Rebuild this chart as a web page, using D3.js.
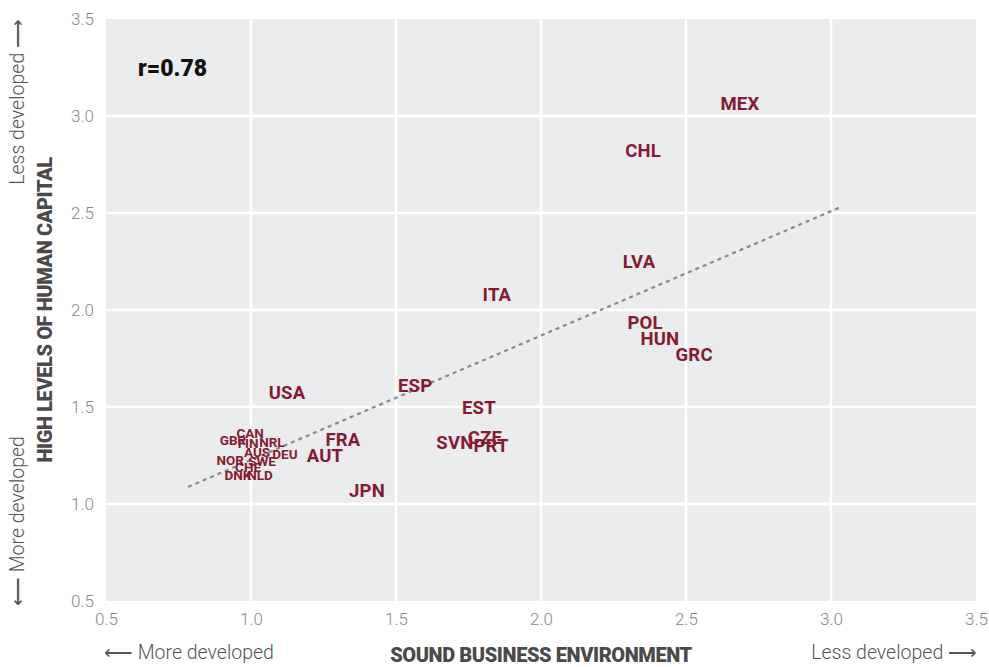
<!DOCTYPE html>
<html><head><meta charset="utf-8">
<script src="https://cdn.jsdelivr.net/npm/d3@7"></script>
<style>
html,body{margin:0;padding:0;background:#fff;}
svg{display:block;font-family:Roboto,"Liberation Sans",sans-serif;}
</style></head>
<body><svg id="c" width="989" height="667"></svg>
<script>
const countries = ["MEX","CHL","LVA","ITA","POL","HUN","GRC","ESP","USA","EST","FRA","AUT","JPN","SVN","CZE","PRT"];
const xValues   = [2.686,2.352,2.338,1.848,2.359,2.410,2.528,1.566,1.124,1.786,1.317,1.255,1.400,1.703,1.807,1.828];
const yValues   = [3.062,2.820,2.247,2.077,1.933,1.851,1.768,1.608,1.572,1.495,1.330,1.247,1.067,1.314,1.340,1.299];

const clusterCountries = ["CAN","GBR","FIN","NRL","AUS","DEU","NOR","SWE","CHE","DNK","NLD"];
const clusterX = [0.997,0.938,0.990,1.072,1.021,1.117,0.928,1.038,0.990,0.955,1.031];
const clusterY = [1.366,1.330,1.314,1.320,1.268,1.258,1.227,1.222,1.191,1.149,1.149];

const trendX = [0.783, 3.034];
const trendY = [1.088, 2.531];

const xTicks = [0.5,1.0,1.5,2.0,2.5,3.0,3.5];
const yTicks = [0.5,1.0,1.5,2.0,2.5,3.0,3.5];
const rLabel = "r=0.78";

const svg = d3.select("#c");
const x = d3.scaleLinear().domain([0.5,3.5]).range([106,976]);
const y = d3.scaleLinear().domain([0.5,3.5]).range([601,19]);

svg.append("rect").attr("x",x(0.5)).attr("y",y(3.5))
  .attr("width",x(3.5)-x(0.5)).attr("height",y(0.5)-y(3.5)).attr("fill","#ebeced");

// grid
const g = svg.append("g");
g.selectAll(".vg").data(xTicks.slice(1,-1)).join("line")
  .attr("x1",d=>x(d)).attr("x2",d=>x(d)).attr("y1",y(3.5)).attr("y2",y(0.5))
  .attr("stroke","#fff").attr("stroke-width",2.5);
g.selectAll(".hg").data(yTicks.slice(1,-1)).join("line")
  .attr("y1",d=>y(d)).attr("y2",d=>y(d)).attr("x1",x(0.5)).attr("x2",x(3.5))
  .attr("stroke","#fff").attr("stroke-width",2.5);

// axes
const xAxis = svg.append("g").attr("transform",`translate(0,${y(0.5)+8})`)
  .call(d3.axisBottom(x).tickValues(xTicks).tickFormat(d3.format(".1f")).tickSize(0).tickPadding(4));
xAxis.select(".domain").remove();
xAxis.selectAll("text").attr("font-size",17).attr("font-weight",300).attr("fill","#888")
  .attr("font-family","Roboto, sans-serif");

const yAxis = svg.append("g").attr("transform",`translate(${x(0.5)-12},0)`)
  .call(d3.axisLeft(y).tickValues(yTicks).tickFormat(d3.format(".1f")).tickSize(0).tickPadding(0));
yAxis.select(".domain").remove();
yAxis.selectAll("text").attr("font-size",17).attr("font-weight",300).attr("fill","#888")
  .attr("font-family","Roboto, sans-serif");

// trend line
svg.append("line").attr("x1",x(trendX[0])).attr("y1",y(trendY[0]))
  .attr("x2",x(trendX[1])).attr("y2",y(trendY[1]))
  .attr("stroke","#858a8f").attr("stroke-width",2.2).attr("stroke-dasharray","4,4");

const col = "#861a32";
svg.append("g").selectAll("text").data(countries).join("text")
  .attr("x",(d,i)=>x(xValues[i])).attr("y",(d,i)=>y(yValues[i]))
  .attr("text-anchor","middle").attr("dominant-baseline","central")
  .attr("font-size",18.5).attr("font-weight",700).attr("fill",col)
  .attr("letter-spacing",0.2)
  .text(d=>d);

svg.append("g").selectAll("text").data(clusterCountries).join("text")
  .attr("x",(d,i)=>x(clusterX[i])).attr("y",(d,i)=>y(clusterY[i]))
  .attr("text-anchor","middle").attr("dominant-baseline","central")
  .attr("font-size",13.5).attr("font-weight",700).attr("fill",col)
  .text(d=>d);

svg.append("text").attr("x",138).attr("y",76).attr("font-size",23).attr("font-weight",900)
  .attr("fill","#111").text(rLabel);

// axis titles
svg.append("text").attr("x",x(2.0)).attr("y",662).attr("text-anchor","middle")
  .attr("font-size",20).attr("font-weight",900).attr("fill","#4a4a4a").attr("letter-spacing",-0.4)
  .text("SOUND BUSINESS ENVIRONMENT");
svg.append("text").attr("x",104).attr("y",659).attr("font-size",19.5).attr("font-weight",300)
  .attr("fill","#555").text("⟵ More developed");
svg.append("text").attr("x",977).attr("y",659).attr("text-anchor","end").attr("font-size",19.5).attr("font-weight",300)
  .attr("fill","#555").text("Less developed ⟶");

svg.append("text").attr("transform",`translate(52,${y(2.0)}) rotate(-90)`).attr("text-anchor","middle")
  .attr("font-size",20).attr("font-weight",900).attr("fill","#4a4a4a").attr("letter-spacing",-0.4)
  .text("HIGH LEVELS OF HUMAN CAPITAL");
svg.append("text").attr("transform",`translate(24,19) rotate(-90)`).attr("text-anchor","end")
  .attr("font-size",19.5).attr("font-weight",300).attr("fill","#555").text("Less developed ⟶");
svg.append("text").attr("transform",`translate(24,606) rotate(-90)`).attr("text-anchor","start")
  .attr("font-size",19.5).attr("font-weight",300).attr("fill","#555").text("⟵ More developed");
</script></body></html>
